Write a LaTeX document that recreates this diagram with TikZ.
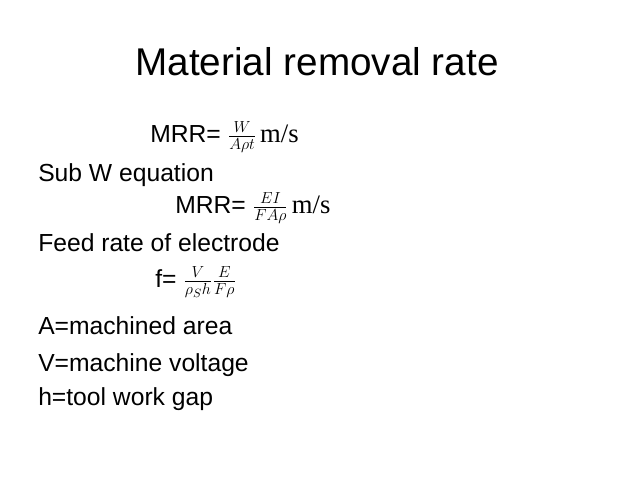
\documentclass[tikz,border=0pt]{standalone}
\usepackage{amsmath}
\usepackage{fontspec}
\setmainfont{Liberation Sans}
\newfontfamily\serifms{Liberation Serif}
\newcommand{\ms}{\,\text{\serifms\fontsize{20}{24}\selectfont m/s}}
\begin{document}
\begin{tikzpicture}[x=0.75pt,y=-0.75pt,
  body/.style={anchor=base west,inner sep=0pt,font=\fontsize{18.5}{22}\selectfont},
  ttl/.style={anchor=base,inner sep=0pt,font=\fontsize{29}{34}\selectfont}]
\path[use as bounding box,fill=white] (0,0) rectangle (638,479);
\node[ttl] (title) at (317,75) {Material removal rate};
\node[body] (m1) at (150,142) {MRR= $\tfrac{W}{A\rho t}\ms$};
\node[body] (s1) at (38,181) {Sub W equation};
\node[body] (m2) at (175,213) {MRR= $\tfrac{EI}{FA\rho}\ms$};
\node[body] (s2) at (38,251) {Feed rate of electrode};
\node[body] (f) at (155,287) {f= $\tfrac{V}{\rho_S h}\tfrac{E}{F\rho}$};
\node[body] (a) at (38,334) {A=machined area};
\node[body] (v) at (38,371) {V=machine voltage};
\node[body] (h) at (38,405) {h=tool work gap};
\end{tikzpicture}
\end{document}
